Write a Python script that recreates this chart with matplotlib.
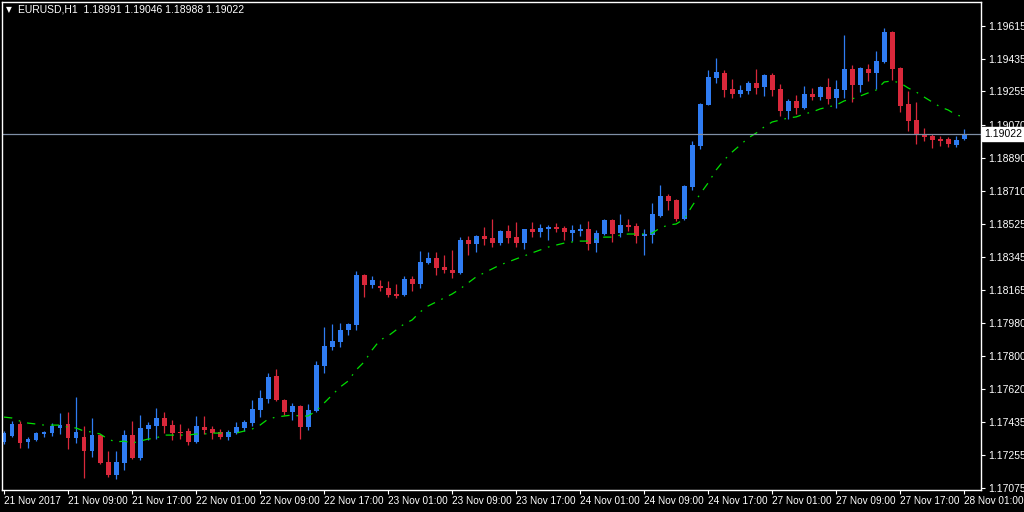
import numpy as np
import matplotlib
matplotlib.use("Agg")
import matplotlib.pyplot as plt
import matplotlib.transforms as mtransforms

# EURUSD H1 bars, 21 Nov 2017 01:00 .. 28 Nov 2017 01:00
opens = [1.17327, 1.17360, 1.17426, 1.17327, 1.17338, 1.17371, 1.17376, 1.17404, 1.17426, 1.17349,
         1.17354, 1.17277, 1.17365, 1.17217, 1.17145, 1.17211, 1.17365, 1.17239, 1.17398, 1.17415,
         1.17459, 1.17420, 1.17382, 1.17387, 1.17327, 1.17409, 1.17398, 1.17382, 1.17354, 1.17376,
         1.17404, 1.17431, 1.17503, 1.17563, 1.17690, 1.17558, 1.17492, 1.17525, 1.17409, 1.17497,
         1.17745, 1.17850, 1.17877, 1.17943, 1.17970, 1.18246, 1.18191, 1.18185, 1.18174, 1.18141,
         1.18136, 1.18224, 1.18196, 1.18312, 1.18339, 1.18290, 1.18273, 1.18257, 1.18438, 1.18416,
         1.18460, 1.18449, 1.18421, 1.18487, 1.18454, 1.18421, 1.18498, 1.18482, 1.18498, 1.18510,
         1.18504, 1.18476, 1.18487, 1.18498, 1.18421, 1.18471, 1.18548, 1.18476, 1.18520, 1.18515,
         1.18460, 1.18465, 1.18570, 1.18680, 1.18658, 1.18553, 1.18729, 1.18955, 1.19180, 1.19329,
         1.19357, 1.19269, 1.19241, 1.19258, 1.19302, 1.19280, 1.19346, 1.19269, 1.19148, 1.19203,
         1.19164, 1.19241, 1.19224, 1.19280, 1.19219, 1.19263, 1.19379, 1.19291, 1.19379, 1.19357,
         1.19417, 1.19582, 1.19384, 1.19186, 1.19098, 1.19016, 1.19010, 1.18994, 1.18994, 1.18960,
         1.18991]
highs = [1.17387, 1.17442, 1.17442, 1.17354, 1.17382, 1.17387, 1.17431, 1.17486, 1.17492, 1.17574,
         1.17415, 1.17459, 1.17368, 1.17277, 1.17277, 1.17393, 1.17442, 1.17475, 1.17437, 1.17514,
         1.17492, 1.17448, 1.17426, 1.17404, 1.17470, 1.17470, 1.17415, 1.17398, 1.17393, 1.17437,
         1.17448, 1.17558, 1.17613, 1.17706, 1.17728, 1.17561, 1.17541, 1.17528, 1.17536, 1.17772,
         1.17960, 1.17976, 1.17981, 1.17981, 1.18268, 1.18251, 1.18240, 1.18218, 1.18213, 1.18196,
         1.18240, 1.18240, 1.18378, 1.18372, 1.18372, 1.18355, 1.18383, 1.18454, 1.18460, 1.18463,
         1.18510, 1.18553, 1.18493, 1.18520, 1.18537, 1.18501, 1.18537, 1.18526, 1.18520, 1.18531,
         1.18515, 1.18520, 1.18526, 1.18542, 1.18493, 1.18553, 1.18551, 1.18581, 1.18553, 1.18531,
         1.18498, 1.18641, 1.18740, 1.18691, 1.18661, 1.18738, 1.18982, 1.19190, 1.19373, 1.19439,
         1.19373, 1.19324, 1.19291, 1.19313, 1.19379, 1.19351, 1.19357, 1.19296, 1.19214, 1.19236,
         1.19285, 1.19274, 1.19283, 1.19329, 1.19318, 1.19565, 1.19400, 1.19390, 1.19406, 1.19478,
         1.19604, 1.19585, 1.19387, 1.19258, 1.19197, 1.19054, 1.19021, 1.19010, 1.19005, 1.19010,
         1.19046]
lows = [1.17316, 1.17354, 1.17294, 1.17294, 1.17335, 1.17354, 1.17360, 1.17371, 1.17288, 1.17321,
        1.17129, 1.17244, 1.17206, 1.17134, 1.17123, 1.17173, 1.17233, 1.17228, 1.17338, 1.17343,
        1.17376, 1.17338, 1.17343, 1.17310, 1.17321, 1.17371, 1.17343, 1.17343, 1.17338, 1.17371,
        1.17387, 1.17415, 1.17464, 1.17541, 1.17552, 1.17475, 1.17448, 1.17343, 1.17393, 1.17492,
        1.17706, 1.17833, 1.17850, 1.17915, 1.17943, 1.18125, 1.18174, 1.18158, 1.18125, 1.18119,
        1.18130, 1.18158, 1.18174, 1.18306, 1.18246, 1.18257, 1.18229, 1.18252, 1.18355, 1.18372,
        1.18410, 1.18399, 1.18410, 1.18421, 1.18399, 1.18388, 1.18454, 1.18454, 1.18438, 1.18482,
        1.18438, 1.18432, 1.18460, 1.18383, 1.18372, 1.18465, 1.18427, 1.18454, 1.18487, 1.18421,
        1.18355, 1.18421, 1.18565, 1.18603, 1.18542, 1.18548, 1.18713, 1.18938, 1.19178, 1.19302,
        1.19224, 1.19219, 1.19224, 1.19241, 1.19241, 1.19230, 1.19230, 1.19120, 1.19104, 1.19131,
        1.19161, 1.19208, 1.19208, 1.19186, 1.19164, 1.19219, 1.19197, 1.19252, 1.19313, 1.19269,
        1.19412, 1.19318, 1.19142, 1.19038, 1.18966, 1.18983, 1.18944, 1.18955, 1.18949, 1.18949,
        1.18988]
closes = [1.17376, 1.17426, 1.17321, 1.17343, 1.17376, 1.17382, 1.17415, 1.17420, 1.17349, 1.17382,
          1.17277, 1.17365, 1.17211, 1.17145, 1.17217, 1.17365, 1.17239, 1.17404, 1.17420, 1.17459,
          1.17415, 1.17376, 1.17376, 1.17327, 1.17415, 1.17393, 1.17376, 1.17354, 1.17382, 1.17409,
          1.17437, 1.17508, 1.17569, 1.17684, 1.17558, 1.17492, 1.17525, 1.17409, 1.17503, 1.17750,
          1.17855, 1.17882, 1.17943, 1.17976, 1.18246, 1.18191, 1.18218, 1.18174, 1.18136, 1.18130,
          1.18224, 1.18196, 1.18317, 1.18339, 1.18284, 1.18273, 1.18257, 1.18438, 1.18416, 1.18460,
          1.18443, 1.18421, 1.18487, 1.18449, 1.18421, 1.18498, 1.18482, 1.18504, 1.18510, 1.18498,
          1.18482, 1.18493, 1.18498, 1.18416, 1.18476, 1.18548, 1.18471, 1.18520, 1.18510, 1.18460,
          1.18471, 1.18581, 1.18680, 1.18652, 1.18553, 1.18735, 1.18960, 1.19186, 1.19335, 1.19362,
          1.19263, 1.19241, 1.19263, 1.19302, 1.19274, 1.19346, 1.19263, 1.19148, 1.19203, 1.19164,
          1.19241, 1.19224, 1.19280, 1.19214, 1.19269, 1.19379, 1.19291, 1.19384, 1.19357, 1.19423,
          1.19582, 1.19379, 1.19175, 1.19093, 1.19016, 1.19005, 1.18988, 1.18983, 1.18966, 1.18988,
          1.19022]
ma = [1.17464, 1.17459, 1.17442, 1.17431, 1.17426, 1.17420, 1.17420, 1.17420, 1.17409, 1.17404,
      1.17387, 1.17382, 1.17371, 1.17343, 1.17327, 1.17332, 1.17321, 1.17332, 1.17343, 1.17349,
      1.17365, 1.17365, 1.17365, 1.17365, 1.17371, 1.17371, 1.17376, 1.17376, 1.17376, 1.17376,
      1.17387, 1.17398, 1.17420, 1.17453, 1.17464, 1.17470, 1.17475, 1.17470, 1.17470, 1.17497,
      1.17541, 1.17585, 1.17629, 1.17662, 1.17723, 1.17767, 1.17833, 1.17888, 1.17910, 1.17943,
      1.17976, 1.17998, 1.18042, 1.18075, 1.18097, 1.18119, 1.18141, 1.18169, 1.18202, 1.18235,
      1.18257, 1.18279, 1.18301, 1.18317, 1.18334, 1.18350, 1.18367, 1.18383, 1.18399, 1.18410,
      1.18421, 1.18427, 1.18432, 1.18432, 1.18443, 1.18454, 1.18454, 1.18465, 1.18471, 1.18471,
      1.18471, 1.18476, 1.18504, 1.18520, 1.18526, 1.18553, 1.18625, 1.18691, 1.18752, 1.18823,
      1.18878, 1.18922, 1.18960, 1.18999, 1.19026, 1.19060, 1.19087, 1.19098, 1.19109, 1.19115,
      1.19131, 1.19142, 1.19159, 1.19170, 1.19180, 1.19203, 1.19214, 1.19230, 1.19247, 1.19263,
      1.19307, 1.19313, 1.19302, 1.19274, 1.19252, 1.19224, 1.19197, 1.19170, 1.19153, 1.19126,
      1.19115]

price_ticks = [1.19615, 1.19435, 1.19255, 1.19070, 1.18890, 1.18710, 1.18525, 1.18345,
               1.18165, 1.17980, 1.17800, 1.17620, 1.17435, 1.17255, 1.17075]
date_labels = ["21 Nov 2017", "21 Nov 09:00", "21 Nov 17:00", "22 Nov 01:00", "22 Nov 09:00",
               "22 Nov 17:00", "23 Nov 01:00", "23 Nov 09:00", "23 Nov 17:00", "24 Nov 01:00",
               "24 Nov 09:00", "24 Nov 17:00", "27 Nov 01:00", "27 Nov 09:00", "27 Nov 17:00",
               "28 Nov 01:00"]
symbol = "EURUSD,H1"
last_price = 1.19022

bull = "#2f7cf2"
bear = "#d9283b"
fg = "white"

plt.rcParams['lines.scale_dashes'] = False
plt.rcParams['font.family'] = ["Liberation Sans", "DejaVu Sans"]
fig = plt.figure(figsize=(10.24, 5.12), dpi=100, facecolor="black")
ax = fig.add_axes([2/1024, 22/512, 979/1024, 488/512], facecolor="black")

o = np.array(opens); h = np.array(highs); l = np.array(lows); c = np.array(closes)
x = np.arange(len(o))
up = c >= o
colors = np.where(up, bull, bear)

ax.vlines(x, l, h, colors=colors, linewidth=0.9)
body = np.maximum(np.abs(c - o), 0.00003)
ax.bar(x, body, bottom=np.minimum(o, c), width=0.62, color=colors, linewidth=0)

ax.plot(x, ma, color="#00e000", linewidth=0.9, linestyle=(0, (6, 5, 1.2, 5)))

ax.axhline(last_price, color="#7f8fa6", linewidth=0.9)

ax.set_xlim(-0.25, 122.1)
ax.set_ylim(1.17063, 1.19747)

for s in ax.spines.values():
    s.set_color(fg)
    s.set_linewidth(1)

ax.yaxis.tick_right()
ax.set_yticks(price_ticks)
ax.set_yticklabels([f"{p:.5f}" for p in price_ticks])
ax.set_xticks(x[::8])
ax.set_xticklabels(date_labels, ha="left")
ax.tick_params(axis="both", colors=fg, labelsize=7.5, length=3, width=0.8, direction="out")
ax.tick_params(axis="x", pad=1.5, labelsize=7.2)
ax.tick_params(axis="y", pad=2)

trans = mtransforms.blended_transform_factory(ax.transAxes, ax.transData)
ax.text(1.0035, last_price, f"{last_price:.5f}", transform=trans, fontsize=7.5, color="black",
        va="center", ha="left",
        bbox=dict(boxstyle="square,pad=0.2", facecolor="white", edgecolor="white"))

fig.text(6/1024, 1 - 10/512, "\u25bc", color=fg, fontsize=5.5, va="center", family="DejaVu Sans")
fig.text(18/1024, 1 - 10/512, f"{symbol}  {opens[-1]:.5f} {highs[-1]:.5f} {lows[-1]:.5f} {closes[-1]:.5f}",
         color=fg, fontsize=7.5, va="center")

fig.savefig("out.png", dpi=100, facecolor="black")
